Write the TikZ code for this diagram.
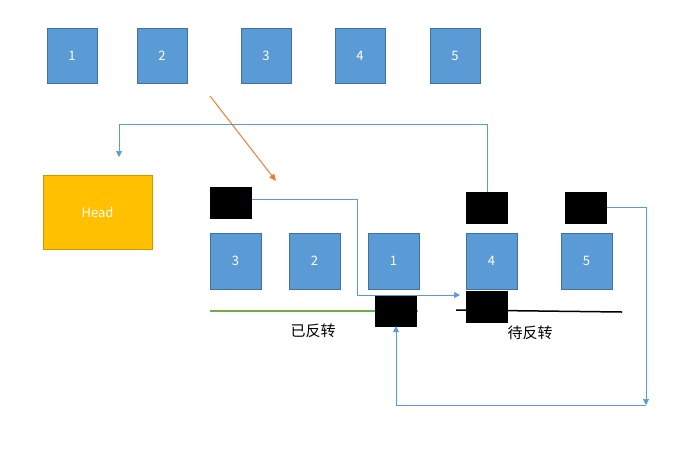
\documentclass[tikz,border=0pt]{standalone}
\usepackage{fontspec}
\setmainfont{Noto Sans CJK SC}
\usetikzlibrary{arrows.meta}
\definecolor{bx}{HTML}{5B9BD5}
\definecolor{bxd}{HTML}{41719C}
\definecolor{hd}{HTML}{FFC000}
\begin{document}
\begin{tikzpicture}[x=1pt,y=-1pt,
 box/.style={fill=bx,draw=bxd,line width=0.6pt,text=white,font=\fontsize{13}{13}\selectfont},
 blk/.style={fill=black,draw=black},
 ln/.style={draw=bx,line width=0.7pt},
 arr/.style={ln,-{Triangle[length=6pt,width=6pt]}}]
\useasboundingbox (0,0) rectangle (700,453);
\foreach \n/\x in {1/47,2/137,3/241,4/335,5/430}
 \node[box,minimum width=50pt,minimum height=55pt,inner sep=0pt] (t\n) at (\x+25,55.5) {\n};
\node[fill=hd,draw=hd!80!black,minimum width=109pt,minimum height=74pt,text=white,font=\fontsize{13}{13}\selectfont] (head) at (97.5,212) {Head};
\foreach \n/\x in {3/210,2/289,1/368,4/466,5/561}
 \node[box,minimum width=51pt,minimum height=56pt,inner sep=0pt] (r\n) at (\x+25.5,261) {\n};
\draw[green!60!black!70!lime,line width=1.5pt,draw={rgb,255:red,112;green,173;blue,71}] (210,311) -- (418,311);
\draw[black,line width=1.5pt] (456,310) -- (622,312);
\node[blk,minimum width=41pt,minimum height=31pt,inner sep=0pt] (b1) at (231,202.5) {};
\node[blk,minimum width=41pt,minimum height=31pt,inner sep=0pt] (b2) at (487,207.5) {};
\node[blk,minimum width=41pt,minimum height=31pt,inner sep=0pt] (b3) at (586,207.5) {};
\node[blk,minimum width=41pt,minimum height=31pt,inner sep=0pt] (b4) at (395.5,310.5) {};
\node[blk,minimum width=41pt,minimum height=31pt,inner sep=0pt] (b5) at (487,306.5) {};
\node[font=\fontsize{15}{15}\selectfont] (l1) at (313,331) {已反转};
\node[font=\fontsize{15}{15}\selectfont] (l2) at (530,333) {待反转};
\coordinate (o1) at (210,96); \coordinate (o2) at (276,181);
\draw[draw={rgb,255:red,237;green,125;blue,49},line width=1pt,-{Triangle[length=7pt,width=6pt]}] (o1) -- (o2);
\coordinate (h1) at (119,157);
\draw[arr] (b2.north) -- (487,124) -- (119,124) -- (h1);
\coordinate (p1) at (460,295);
\draw[arr] (b1.east |- 0,199) -- (357,199) -- (357,295) -- (p1);
\coordinate (q1) at (646,405);
\draw[arr] (b3.east) -- (646,207.5) -- (q1);
\draw[arr] (q1) -- (396,405) -- (b4.south -| 396,0);
\end{tikzpicture}
\end{document}
